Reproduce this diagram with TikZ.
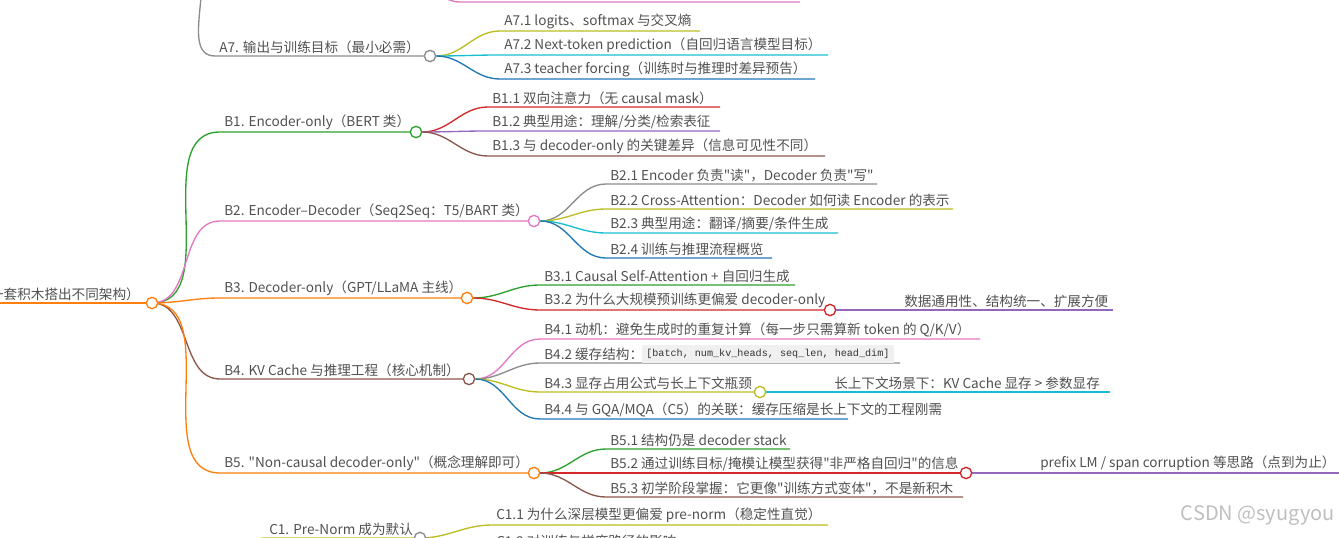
\documentclass[tikz,border=0pt]{standalone}
\usepackage{fontspec}
\setmainfont{Noto Sans CJK SC}[Ligatures=TeXOff]
\setmonofont{Liberation Mono}
\usetikzlibrary{calc}
\definecolor{tx}{RGB}{80,80,80}
\definecolor{cgray}{RGB}{140,140,140}
\definecolor{cgreen}{RGB}{44,160,44}
\definecolor{cpink}{RGB}{227,119,194}
\definecolor{corange}{RGB}{255,127,14}
\definecolor{cbrown}{RGB}{140,86,75}
\definecolor{cred}{RGB}{214,39,40}
\definecolor{cpurple}{RGB}{148,103,189}
\definecolor{colive}{RGB}{188,189,34}
\definecolor{ccyan}{RGB}{23,190,207}
\definecolor{cblue}{RGB}{31,119,180}
\newcommand\qq{\symbol{34}}
\tikzset{lbl/.style={anchor=south west,inner sep=0pt,text=tx,font=\fontsize{10.2}{12}\selectfont},
 dotn/.style={circle,draw=#1,fill=white,line width=1pt,inner sep=0pt,minimum size=8.5pt},
 ln/.style={line width=1pt}}
% \mb{color}{from}{name}{y}{xstart}{xend}{text}
\newcommand\mb[7]{%
 \coordinate (#3s) at (#5,#4); \coordinate (#3e) at (#6,#4);
 \draw[ln,#1] (#2) to[out=0,in=180] (#3s) -- (#3e);
 \node[lbl] (#3t) at (#5+4,#4-2) {#7};}
\begin{document}
\begin{tikzpicture}[x=0.75pt,y=-0.75pt]
\useasboundingbox (0,0) rectangle (1339,538);
\coordinate (topg) at (185,-40);
\coordinate (topp) at (420,-12);
\draw[ln,cpink] (topp) to[out=0,in=180] (460,2) -- (800,2);
% A7
\mb{cgray}{topg}{a7}{56}{215}{430}{A7. 输出与训练目标（最小必需）}
\node[dotn=cgray] (a7d) at (430,56) {};
\mb{colive}{a7d}{a71}{31}{500}{700}{A7.1 logits、softmax 与交叉熵}
\mb{ccyan}{a7d}{a72}{55}{500}{828}{A7.2 Next-token prediction（自回归语言模型目标）}
\mb{cblue}{a7d}{a73}{79}{500}{815}{A7.3 teacher forcing（训练时与推理时差异预告）}
% root
\coordinate (rootl) at (0,303);
\draw[ln,corange] (rootl) -- (152,303);
\node[lbl,anchor=south east] (roott) at (140,301) {一套积木搭出不同架构）};
\coordinate (root) at (152,303);
% B1
\mb{cgreen}{root}{b1}{132}{220}{416}{B1. Encoder-only（BERT 类）}
\node[dotn=cgreen] (b1d) at (416,132) {};
\mb{cred}{b1d}{b11}{107}{488}{720}{B1.1 双向注意力（无 causal mask）}
\mb{cpurple}{b1d}{b12}{131}{488}{720}{B1.2 典型用途：理解/分类/检索表征}
\mb{cbrown}{b1d}{b13}{156}{488}{825}{B1.3 与 decoder-only 的关键差异（信息可见性不同）}
% B2
\mb{cpink}{root}{b2}{221}{220}{534}{B2. Encoder–Decoder（Seq2Seq：T5/BART 类）}
\node[dotn=cpink] (b2d) at (534,221) {};
\mb{cgray}{b2d}{b21}{184}{606}{877}{B2.1 Encoder 负责\qq 读\qq ，Decoder 负责\qq 写\qq}
\mb{colive}{b2d}{b22}{209}{606}{953}{B2.2 Cross-Attention：Decoder 如何读 Encoder 的表示}
\mb{ccyan}{b2d}{b23}{233}{606}{838}{B2.3 典型用途：翻译/摘要/条件生成}
\mb{cblue}{b2d}{b24}{258}{606}{772}{B2.4 训练与推理流程概览}
% B3
\mb{corange}{root}{b3}{298}{220}{467}{B3. Decoder-only（GPT/LLaMA 主线）}
\node[dotn=corange] (b3d) at (467,298) {};
\mb{cgreen}{b3d}{b31}{285}{540}{795}{B3.1 Causal Self-Attention + 自回归生成}
\mb{cred}{b3d}{b32}{310}{540}{830}{B3.2 为什么大规模预训练更偏爱 decoder-only}
\mb{cpurple}{b32e}{b321}{310}{900}{1113}{数据通用性、结构统一、扩展方便}
\node[dotn=cred] (b32d) at (830,310) {};
% B4
\mb{cbrown}{root}{b4}{379}{220}{469}{B4. KV Cache 与推理工程（核心机制）}
\node[dotn=cbrown] (b4d) at (469,379) {};
\mb{cpink}{b4d}{b41}{339}{540}{980}{B4.1 动机：避免生成时的重复计算（每一步只需算新 token 的 Q/K/V）}
\mb{cgray}{b4d}{b42}{363}{540}{900}{B4.2 缓存结构：}
\node[anchor=west,fill=black!6,inner sep=3pt,text=black!80,font=\ttfamily\fontsize{7.6}{9}\selectfont] (code) at (642,354) {[batch, num\_kv\_heads, seq\_len, head\_dim]};
\mb{colive}{b4d}{b43}{392}{540}{760}{B4.3 显存占用公式与长上下文瓶颈}
\mb{ccyan}{b43e}{b431}{392}{830}{1110}{长上下文场景下：KV Cache 显存 > 参数显存}
\node[dotn=colive] (b43d) at (760,392) {};
\mb{cblue}{b4d}{b44}{419}{540}{848}{B4.4 与 GQA/MQA（C5）的关联：缓存压缩是长上下文的工程刚需}
% B5
\mb{corange}{root}{b5}{473}{220}{534}{B5. \qq Non-causal decoder-only\qq （概念理解即可）}
\node[dotn=corange] (b5d) at (534,473) {};
\mb{cgreen}{b5d}{b51}{449}{606}{790}{B5.1 结构仍是 decoder stack}
\mb{cred}{b5d}{b52}{473}{606}{966}{B5.2 通过训练目标/掩模让模型获得\qq 非严格自回归\qq 的信息}
\mb{cpurple}{b52e}{b521}{473}{1036}{1339}{prefix LM / span corruption 等思路（点到为止）}
\node[dotn=cred] (b52d) at (966,473) {};
\mb{cbrown}{b5d}{b53}{497}{606}{963}{B5.3 初学阶段掌握：它更像\qq 训练方式变体\qq ，不是新积木}
\node[dotn=corange] (rootd) at (152,303) {};
% C1
\coordinate (c1p) at (200,620);
\mb{colive}{c1p}{c1}{538}{265}{420}{C1. Pre-Norm 成为默认}
\mb{colive}{c1e}{c11}{525}{492}{828}{C1.1 为什么深层模型更偏爱 pre-norm（稳定性直觉）}
\mb{cgray}{c1e}{c12}{550}{492}{700}{C1.2 对训练与梯度路径的影响}
\node[dotn=cgray] (c1d) at (420,538) {};
\node[anchor=east,text=black!25,font=\fontsize{15}{17}\selectfont,inner sep=0pt] (wm) at (1335,516) {CSDN @syugyou};
\end{tikzpicture}
\end{document}
